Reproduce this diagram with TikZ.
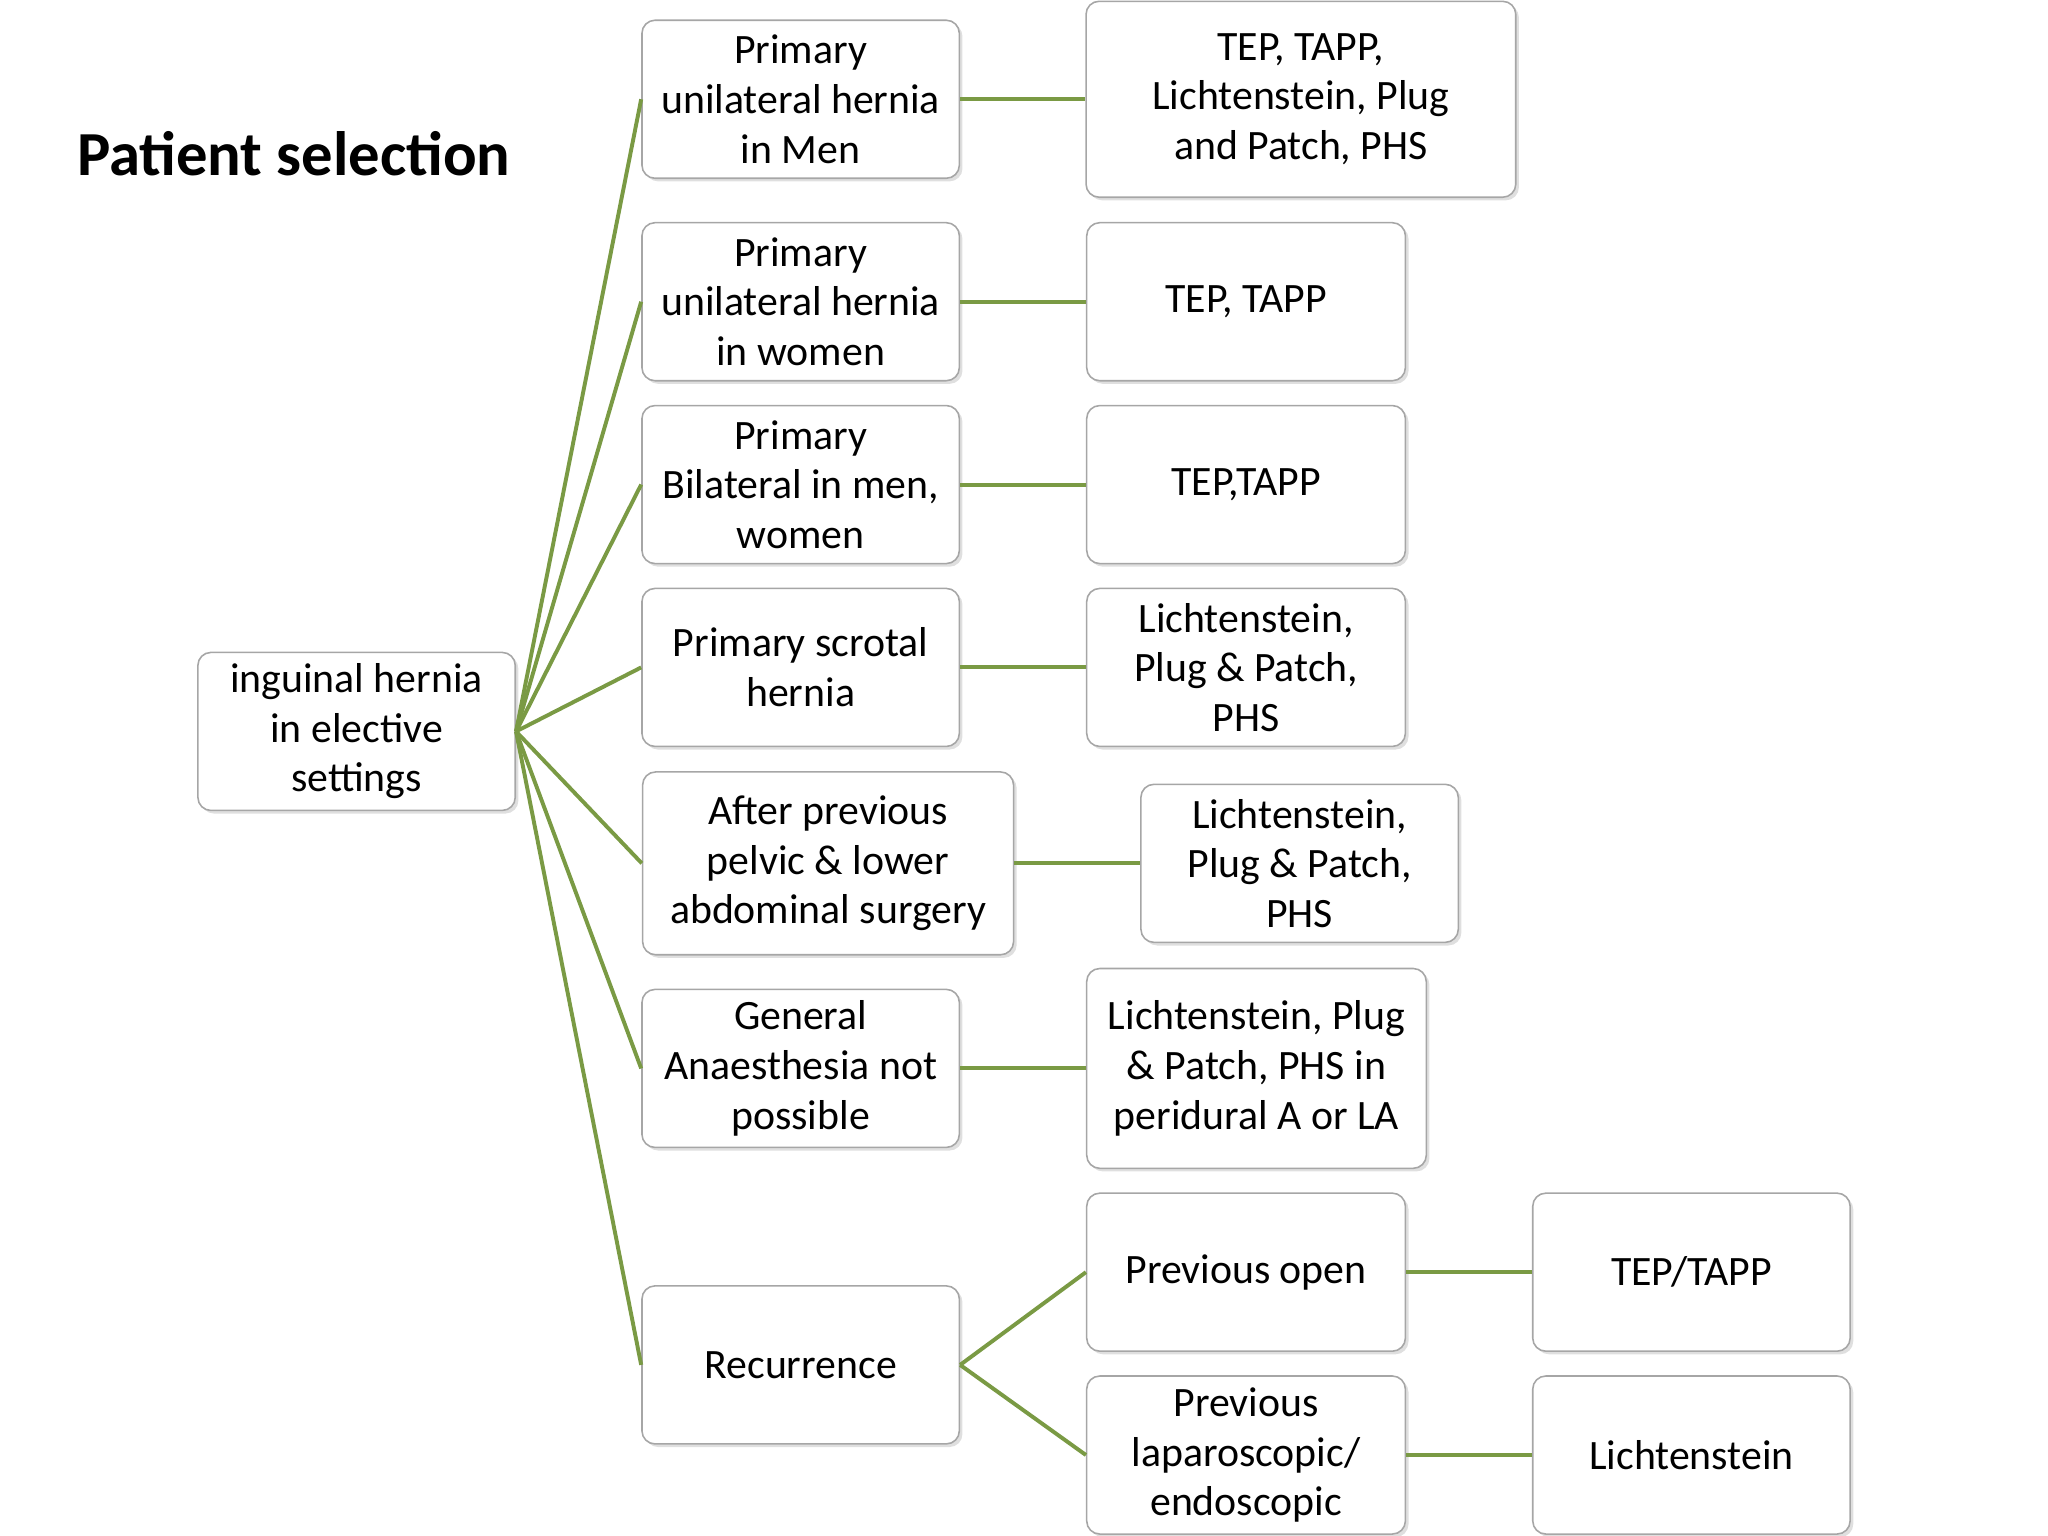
\documentclass[tikz,border=0pt]{standalone}
\usepackage{fontspec}
\setmainfont{Carlito}
\usetikzlibrary{shadows}
\definecolor{edgegreen}{RGB}{122,154,68}
\begin{document}
\begin{tikzpicture}[x=0.5pt,y=-0.5pt,
  box/.style={draw=gray!70,line width=0.6pt,rounded corners=5pt,fill=white,
    drop shadow={opacity=0.25,shadow xshift=1.2pt,shadow yshift=-1.2pt},
    align=center,inner sep=0pt,font=\fontsize{16}{19}\selectfont},
  link/.style={draw=edgegreen,line width=1.5pt}]
\useasboundingbox (0,0) rectangle (1568,1176);
\node[font=\bfseries\fontsize{24}{28}\selectfont,anchor=west] (title) at (52,118) {Patient selection};
% boxes: name, center, width, height
\newcommand{\bx}[5]{\node[box,minimum width=#3*0.5pt,minimum height=#4*0.5pt] (#1) at #2 {#5};}
\bx{root}{(273,560)}{243}{121}{inguinal hernia\\in elective\\settings}
\bx{a1}{(613,76)}{243}{121}{Primary\\unilateral hernia\\in Men}
\bx{a2}{(613,231)}{243}{121}{Primary\\unilateral hernia\\in women}
\bx{a3}{(613,371)}{243}{121}{Primary\\Bilateral in men,\\women}
\bx{a4}{(613,511)}{243}{121}{Primary scrotal\\hernia}
\bx{a5}{(634,661)}{284}{140}{After previous\\pelvic \& lower\\abdominal surgery}
\bx{a6}{(613,818)}{243}{121}{General\\Anaesthesia not\\possible}
\bx{a7}{(613,1045)}{243}{121}{Recurrence}
\bx{b1}{(996,76)}{329}{150}{TEP, TAPP,\\Lichtenstein, Plug\\and Patch, PHS}
\bx{b2}{(954,231)}{244}{121}{TEP, TAPP}
\bx{b3}{(954,371)}{244}{121}{TEP,TAPP}
\bx{b4}{(954,511)}{244}{121}{Lichtenstein,\\Plug \& Patch,\\PHS}
\bx{b5}{(995,661)}{243}{121}{Lichtenstein,\\Plug \& Patch,\\PHS}
\bx{b6}{(962,818)}{260}{153}{Lichtenstein, Plug\\\& Patch, PHS in\\peridural A or LA}
\bx{c1}{(954,974)}{244}{121}{Previous open}
\bx{c2}{(954,1114)}{244}{121}{Previous\\laparoscopic/\\endoscopic}
\bx{d1}{(1295,974)}{243}{121}{TEP/TAPP}
\bx{d2}{(1295,1114)}{243}{121}{Lichtenstein}
\foreach \t in {a1,a2,a3,a4,a5,a6,a7} \draw[link] (root.east) -- (\t.west);
\foreach \s/\t in {a1/b1,a2/b2,a3/b3,a4/b4,a5/b5,a6/b6,c1/d1,c2/d2} \draw[link] (\s.east) -- (\t.west);
\draw[link] (a7.east) -- (c1.west);
\draw[link] (a7.east) -- (c2.west);
\end{tikzpicture}
\end{document}
